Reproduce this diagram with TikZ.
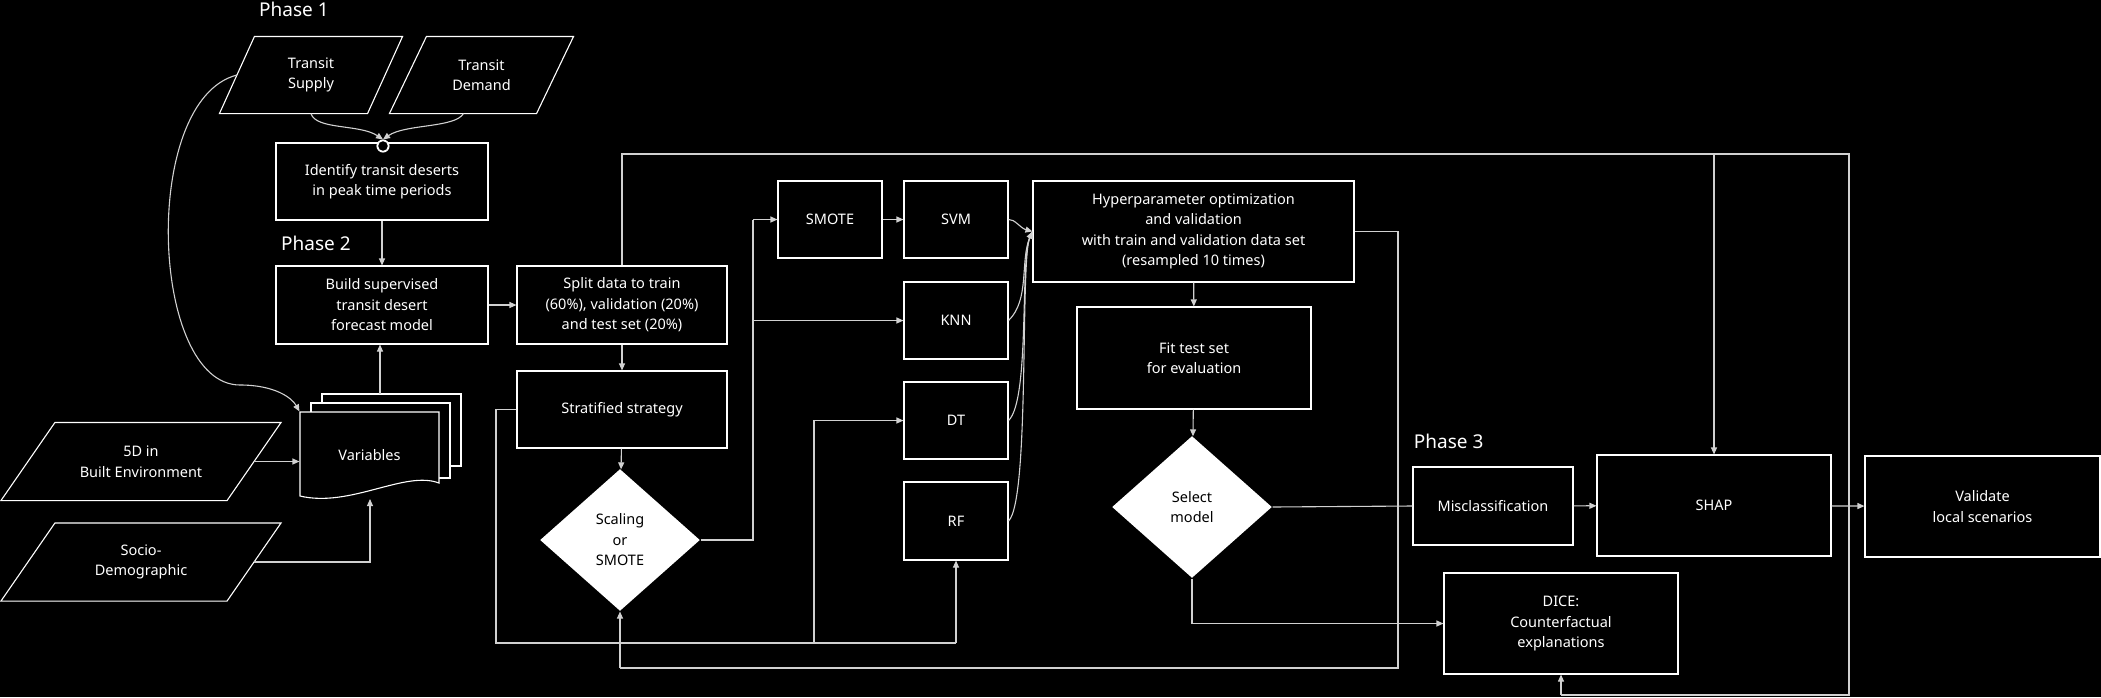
\documentclass[tikz,border=0pt]{standalone}
\usepackage{fontspec}
\setmainfont{Noto Sans}
\usetikzlibrary{shapes.geometric,arrows.meta}
\begin{document}
\begin{tikzpicture}[
            x=1pt, y=-1pt,
            line width=1.1pt,
            font=\fontsize{14.5}{20.5}\selectfont,
            every node/.style={text=white, align=center},
            box/.style={rectangle, draw=white, inner sep=0pt},
            data/.style={rectangle, draw=none, inner sep=0pt, minimum height=76pt},
            choice/.style={diamond, fill=white, text=black, inner sep=0pt, minimum width=160pt, minimum height=142pt},
            phase/.style={font=\fontsize{19}{22}\selectfont\bfseries},
            link/.style={draw=white!82!black},
            arr/.style={link, -{Triangle[length=7pt,width=6pt]}}]
    % background and page size
    \fill[black] (0,0) rectangle (2101,697);
    \useasboundingbox (0,0) rectangle (2101,697);

    % Phase 1
    \node[phase] (p1) at (294,9) {Phase 1};
    \node[data, minimum width=147pt] (supply) at (311,75) {Transit\\Supply};
    \node[data, minimum width=146pt] (demand) at (481.5,75) {Transit\\Demand};
    \node[circle, draw=white, inner sep=0pt, minimum size=12pt] (junc) at (383,146) {};
    \node[box, minimum width=212pt, minimum height=77pt] (ident) at (382,181.5) {Identify transit deserts\\in peak time periods};
    \fill[black] (junc.center) circle (5.5pt);
    \draw[white] (junc.center) circle (5.5pt);

    % Phase 2
    \node[phase] (p2) at (316,243) {Phase 2};
    \node[box, minimum width=212pt, minimum height=78pt] (build) at (382,305) {Build supervised\\transit desert\\forecast model};
    \node[box, minimum width=210pt, minimum height=78pt] (split) at (622,305) {Split data to train\\(60\%), validation (20\%)\\and test set (20\%)};
    \node[box, minimum width=210pt, minimum height=77pt] (strat) at (622,409.5) {Stratified strategy};
    \node[choice] (scal) at (620,540) {Scaling\\or\\SMOTE};
    \node[data, minimum width=225pt, minimum height=77pt] (fived) at (141,461.5) {5D in\\Built Environment};
    \node[data, minimum width=225pt, minimum height=77pt] (socio) at (141,562) {Socio-\\Demographic};

    % variables (stacked documents)
    \draw[white, fill=black] (322,394) rectangle (461,466);
    \draw[white, fill=black] (311,403) rectangle (450,478);
    \draw[white, fill=black] (300,412) -- (439,412) -- (439,483)
        .. controls (405,470) and (350,508) .. (300,496) -- cycle;
    \node[minimum width=139pt, minimum height=86pt, inner sep=0pt] (vars) at (369.5,455) {Variables};
    \coordinate (varstop) at (380,394);

    \foreach \n/\s in {supply/17.5, demand/18.5, fived/27, socio/27}
        \draw[white] ([xshift=\s pt]\n.north west) -- ([xshift=\s pt]\n.north east)
            -- ([xshift=-\s pt]\n.south east) -- ([xshift=-\s pt]\n.south west) -- cycle;

    % models
    \node[box, minimum width=104pt, minimum height=77pt] (smote) at (830,219.5) {SMOTE};
    \node[box, minimum width=104pt, minimum height=77pt] (svm) at (956,219.5) {SVM};
    \node[box, minimum width=104pt, minimum height=77pt] (knn) at (956,320.5) {KNN};
    \node[box, minimum width=104pt, minimum height=77pt] (dt) at (956,420.5) {DT};
    \node[box, minimum width=104pt, minimum height=78pt] (rf) at (956,521) {RF};
    \node[box, minimum width=321pt, minimum height=101pt] (hyper) at (1193.5,231.5) {Hyperparameter optimization\\and validation\\with train and validation data set\\(resampled 10 times)};
    \node[box, minimum width=234pt, minimum height=102pt] (fit) at (1194,358) {Fit test set\\for evaluation};
    \node[choice] (select) at (1192,507) {Select\\model};

    % Phase 3
    \node[phase, anchor=west] (p3) at (1410,441) {Phase 3};
    \node[box, minimum width=160pt, minimum height=78pt] (misc) at (1493,506) {Misclassification};
    \node[box, minimum width=234pt, minimum height=101pt] (shap) at (1714,505.5) {SHAP};
    \node[box, minimum width=235pt, minimum height=101pt] (valid) at (1982.5,506.5) {Validate\\local scenarios};
    \node[box, minimum width=234pt, minimum height=101pt] (dice) at (1561,623.5) {DICE:\\Counterfactual\\explanations};

    % connectors
    \draw[arr] (supply.south) .. controls (316,130) and (360,124) .. (junc.north);
    \draw[arr] ([xshift=-18pt]demand.south) .. controls (455,128) and (405,124) .. (junc.north);
    \draw[arr] (supply.west) .. controls (140,100) and (150,385) .. (240,385)
        .. controls (275,385) and (292,398) .. (vars.north west);
    \draw[arr] (ident) -- (build);
    \draw[arr] (varstop) -- (varstop |- build.south);
    \draw[arr] (fived.east) -- (fived.east -| vars.west);
    \draw[arr] (socio.east) -| (370,499);
    \draw[arr] (build) -- (split);
    \draw[arr] (split) -- (strat);
    \draw[arr] (strat) -- (scal);
    \draw[link] (scal.east) -- (753,540) -- (753,219.5);
    \draw[arr] (753,219.5) -- (smote.west);
    \draw[arr] (753,320.5) -- (knn.west);
    \draw[arr] (smote) -- (svm);
    \draw[link] (strat.west) -- (496,409.5) -- (496,643) -- (956,643);
    \draw[arr] (956,643) -- (rf.south);
    \draw[arr] (814,643) |- (dt.west);
    \draw[arr] (svm.east) .. controls (1015,219) and (1020,228) .. (hyper.west);
    \foreach \m/\t in {knn/300, dt/400, rf/500}
        \draw[arr] (\m.east) .. controls (1030,\t) and (1020,260) .. (hyper.west);
    \draw[arr] (hyper) -- (fit);
    \draw[arr] (fit) -- (select);
    \draw[link] (hyper.east) -- (1398,231.5) -- (1398,668) -- (620,668);
    \draw[arr] (620,668) -- (scal.south);
    \draw[link] (select.east) -- (misc.west);
    \draw[arr] (misc) -- (shap);
    \draw[arr] (shap) -- (valid);
    \draw[arr] (select.south) |- (dice.west);
    \draw[link] (split.north) -- (622,154) -- (1849,154) -- (1849,695) -- (1561,695);
    \draw[arr] (1561,695) -- (dice.south);
    \draw[arr] (1714,154) -- (shap.north);
\end{tikzpicture}
\end{document}
